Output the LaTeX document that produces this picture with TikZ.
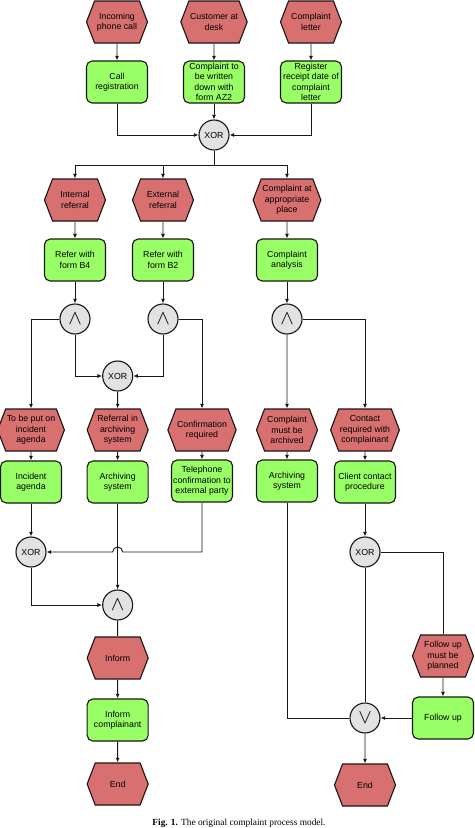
\documentclass[tikz,border=0pt]{standalone}
\usepackage{fontspec}
\setmainfont{Liberation Serif}
\setsansfont{Liberation Sans}
\usepackage{tikz}
\usetikzlibrary{arrows.meta}
\usetikzlibrary{shapes.symbols, calc}

\definecolor{evred}{RGB}{217,112,112}
\definecolor{fngreen}{RGB}{153,255,102}
\definecolor{gategray}{RGB}{226,226,226}
\definecolor{inkdark}{RGB}{30,20,20}

\tikzset{
  event/.style={signal, signal to=west and east, signal pointer angle=138,
    draw=inkdark, fill=evred, line width=0.95pt, minimum width=1.83cm, minimum height=1.26cm,
    inner sep=1pt, align=center, font=\sffamily\fontsize{7.5}{9}\selectfont},
  func/.style={rectangle, rounded corners=0.17cm, draw=inkdark, fill=fngreen, line width=0.95pt,
    minimum width=1.83cm, minimum height=1.26cm, inner sep=1pt, align=center,
    font=\sffamily\fontsize{7.5}{9}\selectfont},
  gate/.style={circle, draw=inkdark, fill=gategray, line width=0.95pt, minimum size=0.9cm,
    inner sep=0pt, font=\sffamily\fontsize{7.5}{9}\selectfont},
  flow/.style={-{Latex[length=4pt,width=3.5pt]}, line width=0.8pt, draw=inkdark},
  link/.style={line width=0.8pt, draw=inkdark}
}
\newcommand{\andsym}{{\fontsize{16}{16}\selectfont$\wedge$}}
\newcommand{\orsym}{{\fontsize{16}{16}\selectfont$\vee$}}

\begin{document}
\begin{tikzpicture}
\useasboundingbox (0,0) rectangle (14.22,-24.84);
%
\node[event] (incall) at (3.51,-0.66) {Incoming\\phone call};
\node[event] (atdesk) at (6.42,-0.66) {Customer at\\desk};
\node[event] (letter) at (9.33,-0.66) {Complaint\\letter};
\node[func] (callreg) at (3.51,-2.46) {Call\\registration};
\node[func] (formaz) at (6.42,-2.46) {Complaint to\\be written\\down with\\form AZ2};
\node[func] (regdate) at (9.33,-2.46) {Register\\receipt date of\\complaint\\letter};
\node[gate] (xora) at (6.42,-4.05) {XOR};
\coordinate (split) at (6.42,-4.95);
%
\node[event] (internal) at (2.25,-6.0) {Internal\\referral};
\node[event] (external) at (4.89,-6.0) {External\\referral};
\node[event] (approp) at (8.61,-6.0) {Complaint at\\appropriate\\place};
\node[func] (formbf) at (2.25,-7.8) {Refer with\\form B4};
\node[func] (formbt) at (4.89,-7.8) {Refer with\\form B2};
\node[func] (analysis) at (8.61,-7.8) {Complaint\\analysis};
\node[gate] (anda) at (2.25,-9.57) {\andsym};
\node[gate] (andb) at (4.89,-9.57) {\andsym};
\node[gate] (andc) at (8.61,-9.57) {\andsym};
\node[gate] (xorb) at (3.53,-11.28) {XOR};
%
\node[event] (putagenda) at (0.93,-12.9) {To be put on\\incident\\agenda};
\node[event] (refarch) at (3.53,-12.9) {Referral in\\archiving\\system};
\node[event] (confreq) at (6.06,-12.9) {Confirmation\\required};
\node[event] (mustarch) at (8.61,-12.9) {Complaint\\must be\\archived};
\node[event] (contreq) at (10.95,-12.9) {Contact\\required with\\complainant};
\node[func] (agenda) at (0.93,-14.46) {Incident\\agenda};
\node[func] (archa) at (3.53,-14.46) {Archiving\\system};
\node[func] (phone) at (6.06,-14.43) {Telephone\\confirmation to\\external party};
\node[func] (archb) at (8.61,-14.43) {Archiving\\system};
\node[func] (contact) at (10.95,-14.46) {Client contact\\procedure};
\node[gate] (xorc) at (0.93,-16.56) {XOR};
\node[gate] (xord) at (10.95,-16.56) {XOR};
\node[gate] (andd) at (3.53,-18.15) {\andsym};
%
\node[event] (planned) at (13.29,-19.68) {Follow up\\must be\\planned};
\node[event] (inform) at (3.53,-19.74) {Inform};
\node[func] (followup) at (13.29,-21.54) {Follow up};
\node[gate] (ora) at (10.95,-21.54) {\orsym};
\node[func] (informc) at (3.53,-21.6) {Inform\\complainant};
\node[event] (enda) at (3.53,-23.52) {End};
\node[event] (endb) at (10.95,-23.55) {End};
%
\node[font=\fontsize{8}{10}\selectfont] (caption) at (7.17,-24.69)
  {\textbf{Fig. 1.} The original complaint process model.};
%
\draw[flow] (incall) -- (callreg);
\draw[flow] (atdesk) -- (formaz);
\draw[flow] (letter) -- (regdate);
\draw[flow] (callreg) |- (xora);
\draw[flow] (formaz) -- (xora);
\draw[flow] (regdate) |- (xora);
\draw[link] (xora) -- (split);
\draw[flow] (split) -| (internal);
\draw[flow] (split) -| (external);
\draw[flow] (split) -| (approp);
%
\draw[flow] (internal) -- (formbf);
\draw[flow] (external) -- (formbt);
\draw[flow] (approp) -- (analysis);
\draw[flow] (formbf) -- (anda);
\draw[flow] (formbt) -- (andb);
\draw[flow] (analysis) -- (andc);
\draw[flow] (anda) -| (putagenda);
\draw[flow] (anda) |- (xorb);
\draw[flow] (andb) |- (xorb);
\draw[flow] (andb) -| (confreq);
\draw[flow] (xorb) -- (refarch);
\draw[flow] (andc) -- (mustarch);
\draw[flow] (andc) -| (contreq);
%
\draw[flow] (putagenda) -- (agenda);
\draw[flow] (refarch) -- (archa);
\draw[flow] (confreq) -- (phone);
\draw[flow] (mustarch) -- (archb);
\draw[flow] (contreq) -- (contact);
\draw[flow] (agenda) -- (xorc);
\draw[flow] (phone) |- ($(archa |- xorc)+(0.15,0)$)
  arc[start angle=0, end angle=180, radius=0.15] -- (xorc);
\draw[flow] (archa) -- (andd);
\draw[flow] (xorc) |- (andd);
\draw[flow] (contact) -- (xord);
%
\draw[link] (andd) -- (inform);
\draw[flow] (inform) -- (informc);
\draw[flow] (informc) -- (enda);
\draw[link] (xord) -| (planned);
\draw[flow] (planned) -- (followup);
\draw[flow] (followup) -- (ora);
\draw[link] (archb) |- (ora);
\draw[link] (xord) -- (ora);
\draw[flow] (ora) -- (endb);
%
\end{tikzpicture}
\end{document}
